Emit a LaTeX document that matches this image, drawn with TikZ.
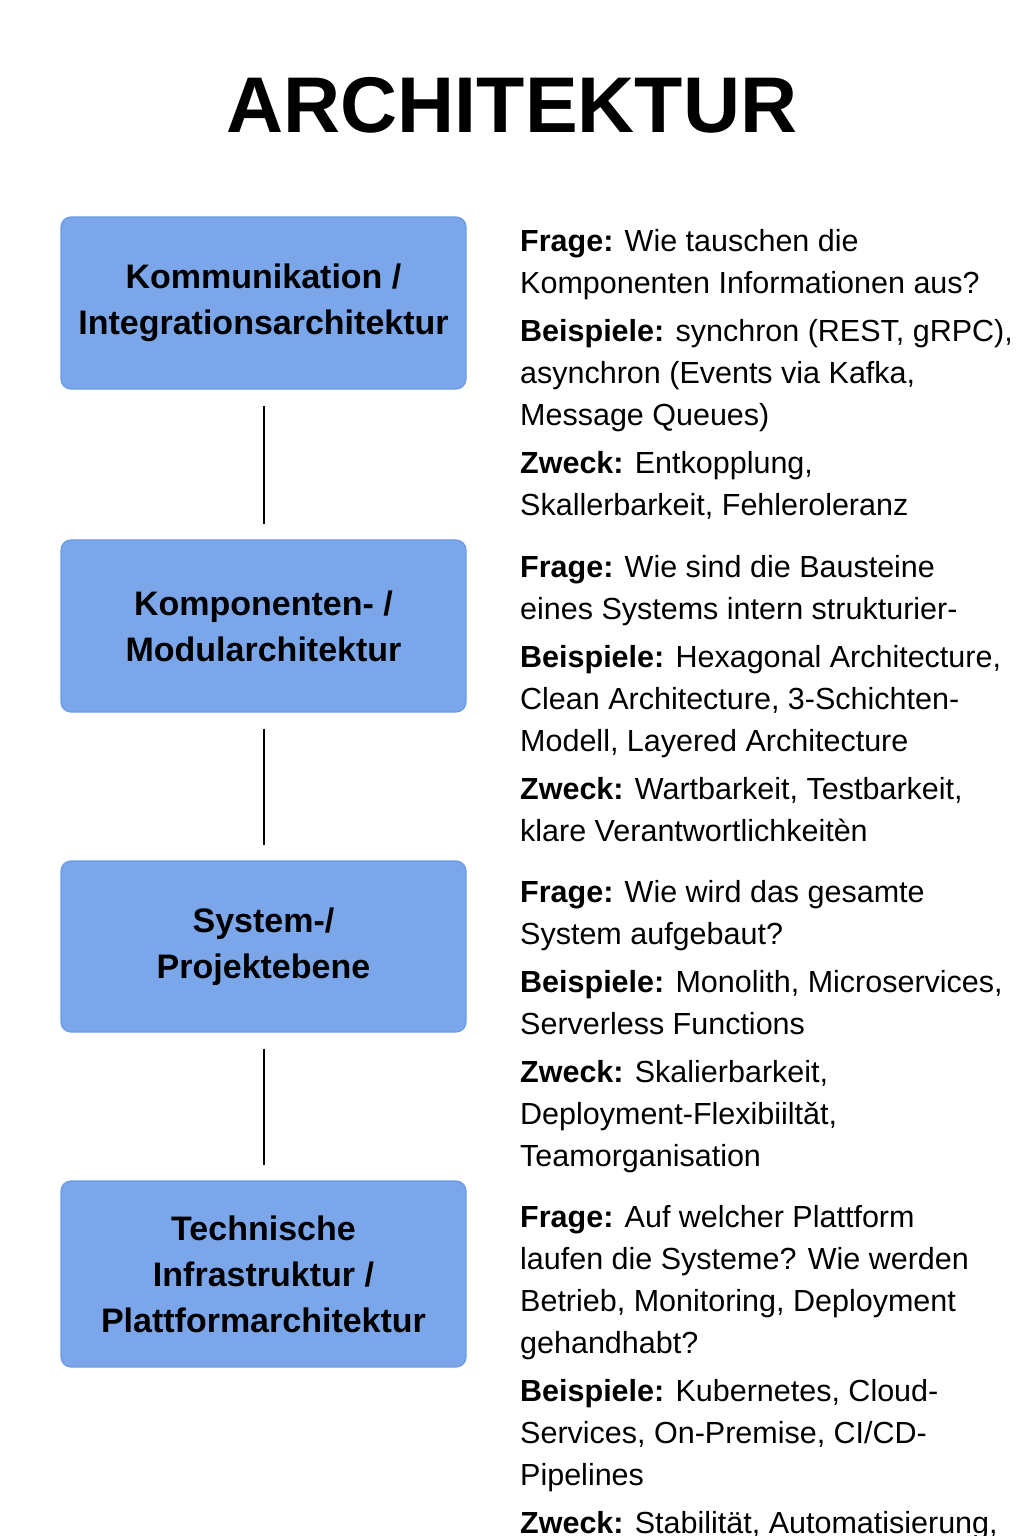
\documentclass[tikz,border=0pt]{standalone}
\usepackage{fontspec}
\setmainfont{Liberation Sans}
\usetikzlibrary{positioning}
\definecolor{boxblue}{HTML}{7BA7EA}
\definecolor{boxedge}{HTML}{6A9BE6}

\begin{document}
\begin{tikzpicture}[x=1pt, y=-1pt,
    layer/.style={draw=boxedge, line width=1.2pt, fill=boxblue, rounded corners=10pt,
      minimum width=405pt, inner sep=0pt, align=center,
      font=\fontsize{34}{46}\selectfont\bfseries},
    info/.style={anchor=north west, inner sep=0pt, align=left,
      font=\fontsize{30.5}{42}\selectfont},
    link/.style={line width=2pt, black, shorten <=16pt, shorten >=15pt}]
  \useasboundingbox[fill=white] (0,0) rectangle (1024,1536);
  \node[font=\fontsize{79}{90}\selectfont\bfseries] (title) at (512,105) {ARCHITEKTUR};

  % linke Spalte: Ebenen
  \node[layer, minimum height=172pt] (kom) at (263.5,303) {Kommunikation /\\Integrationsarchitektur};
  \node[layer, minimum height=172pt] (mod) at (263.5,626) {Komponenten- /\\Modularchitektur};
  \node[layer, minimum height=171pt] (sys) at (263.5,946.5) {System-/\\Projektebene};
  \node[layer, minimum height=186pt] (inf) at (263.5,1274) {Technische\\Infrastruktur /\\Plattformarchitektur};
  \draw[link] (kom) -- (mod);
  \draw[link] (mod) -- (sys);
  \draw[link] (sys) -- (inf);

  % rechte Spalte: Beschreibungen
  \node[info] (komtxt) at (520,229) {\textbf{Frage:} Wie tauschen die\\
    Komponenten Informationen aus?\\[6pt]
    \textbf{Beispiele:} synchron (REST, gRPC),\\
    asynchron (Events via Kafka,\\
    Message Queues)\\[6pt]
    \textbf{Zweck:} Entkopplung,\\
    Skallerbarkeit, Fehleroleranz};
  \node[info] (modtxt) at (520,555) {\textbf{Frage:} Wie sind die Bausteine\\
    eines Systems intern strukturier-\\[6pt]
    \textbf{Beispiele:} Hexagonal Architecture,\\
    Clean Architecture, 3-Schichten-\\
    Modell, Layered Architecture\\[6pt]
    \textbf{Zweck:} Wartbarkeit, Testbarkeit,\\
    klare Verantwortlichkeitèn};
  \node[info] (systxt) at (520,880) {\textbf{Frage:} Wie wird das gesamte\\
    System aufgebaut?\\[6pt]
    \textbf{Beispiele:} Monolith, Microservices,\\
    Serverless Functions\\[6pt]
    \textbf{Zweck:} Skalierbarkeit,\\
    Deployment-Flexibiiltǎt,\\
    Teamorganisation};
  \node[info] (inftxt) at (520,1205) {\textbf{Frage:} Auf welcher Plattform\\
    laufen die Systeme? Wie werden\\
    Betrieb, Monitoring, Deployment\\
    gehandhabt?\\[6pt]
    \textbf{Beispiele:} Kubernetes, Cloud-\\
    Services, On-Premise, CI/CD-\\
    Pipelines\\[6pt]
    \textbf{Zweck:} Stabilität, Automatisierung,};
\end{tikzpicture}
\end{document}
